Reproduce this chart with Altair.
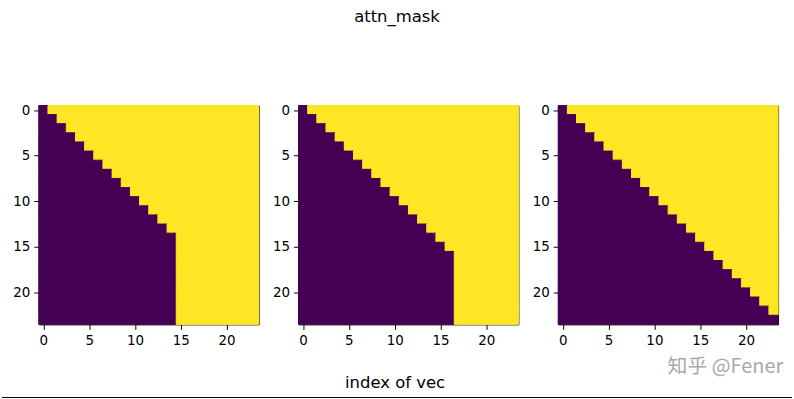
import altair as alt
import pandas as pd

# Number of visible (purple) columns in each of the 24 rows, per panel
seq_len = 24
rows = list(range(seq_len))
panel1_counts = [1, 2, 3, 4, 5, 6, 7, 8, 9, 10, 11, 12, 13, 14,
                 15, 15, 15, 15, 15, 15, 15, 15, 15, 15]
panel2_counts = [1, 2, 3, 4, 5, 6, 7, 8, 9, 10, 11, 12, 13, 14, 15, 16,
                 17, 17, 17, 17, 17, 17, 17, 17]
panel3_counts = [1, 2, 3, 4, 5, 6, 7, 8, 9, 10, 11, 12, 13, 14, 15, 16,
                 17, 18, 19, 20, 21, 22, 23, 24]
tick_values = [0, 5, 10, 15, 20]
title_text = "attn_mask"
xlabel_text = "index of vec"
watermark_text = "知乎 @Fener"
colors = ["#440154", "#fde725"]

FONT = "DejaVu Sans"
W, H = 221, 220


def table(counts):
    # one purple run (value 0) and one yellow run (value 1) per row
    recs = []
    for r, c in zip(rows, counts):
        recs.append({"x0": -0.5, "x1": c - 0.5, "y0": r - 0.5, "y1": r + 0.5, "v": 0})
        if c < seq_len:
            recs.append({"x0": c - 0.5, "x1": seq_len - 0.5, "y0": r - 0.5, "y1": r + 0.5, "v": 1})
    return pd.DataFrame(recs)


xscale = alt.Scale(domain=[-0.5, 23.5], nice=False, zero=False)
yscale = alt.Scale(domain=[-0.5, 23.5], nice=False, zero=False, reverse=True)
cscale = alt.Scale(domain=[0, 1], range=colors)
axis_kw = dict(values=tick_values, grid=False, domain=False, tickColor="black",
               tickSize=5, labelPadding=4, labelColor="black", labelFont=FONT,
               labelFontSize=13.5, title=None)


def heat(counts):
    return alt.Chart(table(counts)).mark_rect(strokeWidth=1).encode(
        x=alt.X("x0:Q", scale=xscale, axis=alt.Axis(**axis_kw)),
        x2="x1:Q",
        y=alt.Y("y0:Q", scale=yscale, axis=alt.Axis(**axis_kw)),
        y2="y1:Q",
        color=alt.Color("v:N", scale=cscale, legend=None),
        stroke=alt.Stroke("v:N", scale=cscale, legend=None),
    )


dummy = pd.DataFrame({"a": [0]})

top_anchor = alt.Chart(dummy).mark_rule(color="white", strokeWidth=1).encode(
    x=alt.value(-37), x2=alt.value(757), y=alt.value(-103.5))
bottom_line = alt.Chart(dummy).mark_rule(color="black", strokeWidth=1.2).encode(
    x=alt.value(-37), x2=alt.value(757), y=alt.value(293.5))

title_mark = alt.Chart(pd.DataFrame({"t": [title_text]})).mark_text(
    font=FONT, fontSize=16.5, color="black", baseline="middle", align="center"
).encode(x=alt.value(397 - 298), y=alt.value(15 - 104), text="t:N")

xlabel_mark = alt.Chart(pd.DataFrame({"t": [xlabel_text]})).mark_text(
    font=FONT, fontSize=16.5, color="black", baseline="middle", align="center"
).encode(x=alt.value(395 - 298), y=alt.value(383 - 104), text="t:N")

wm_mark = alt.Chart(pd.DataFrame({"t": [watermark_text]})).mark_text(
    font="Noto Sans CJK SC", fontSize=20, color="#a8a8a8", baseline="middle", align="center"
).encode(x=alt.value(728 - 560), y=alt.value(367 - 104), text="t:N")

p1 = alt.layer(heat(panel1_counts), top_anchor, bottom_line).properties(width=W, height=H)
p2 = alt.layer(heat(panel2_counts), title_mark, xlabel_mark).properties(width=W, height=H)
p3 = alt.layer(heat(panel3_counts), wm_mark).properties(width=W, height=H)

chart = alt.hconcat(p1, p2, p3, spacing=40, bounds="flush").properties(
    padding=0, background="white"
).configure_view(stroke="black", strokeWidth=1)

chart.save("out.html", embed_options={"renderer": "svg", "actions": False})
